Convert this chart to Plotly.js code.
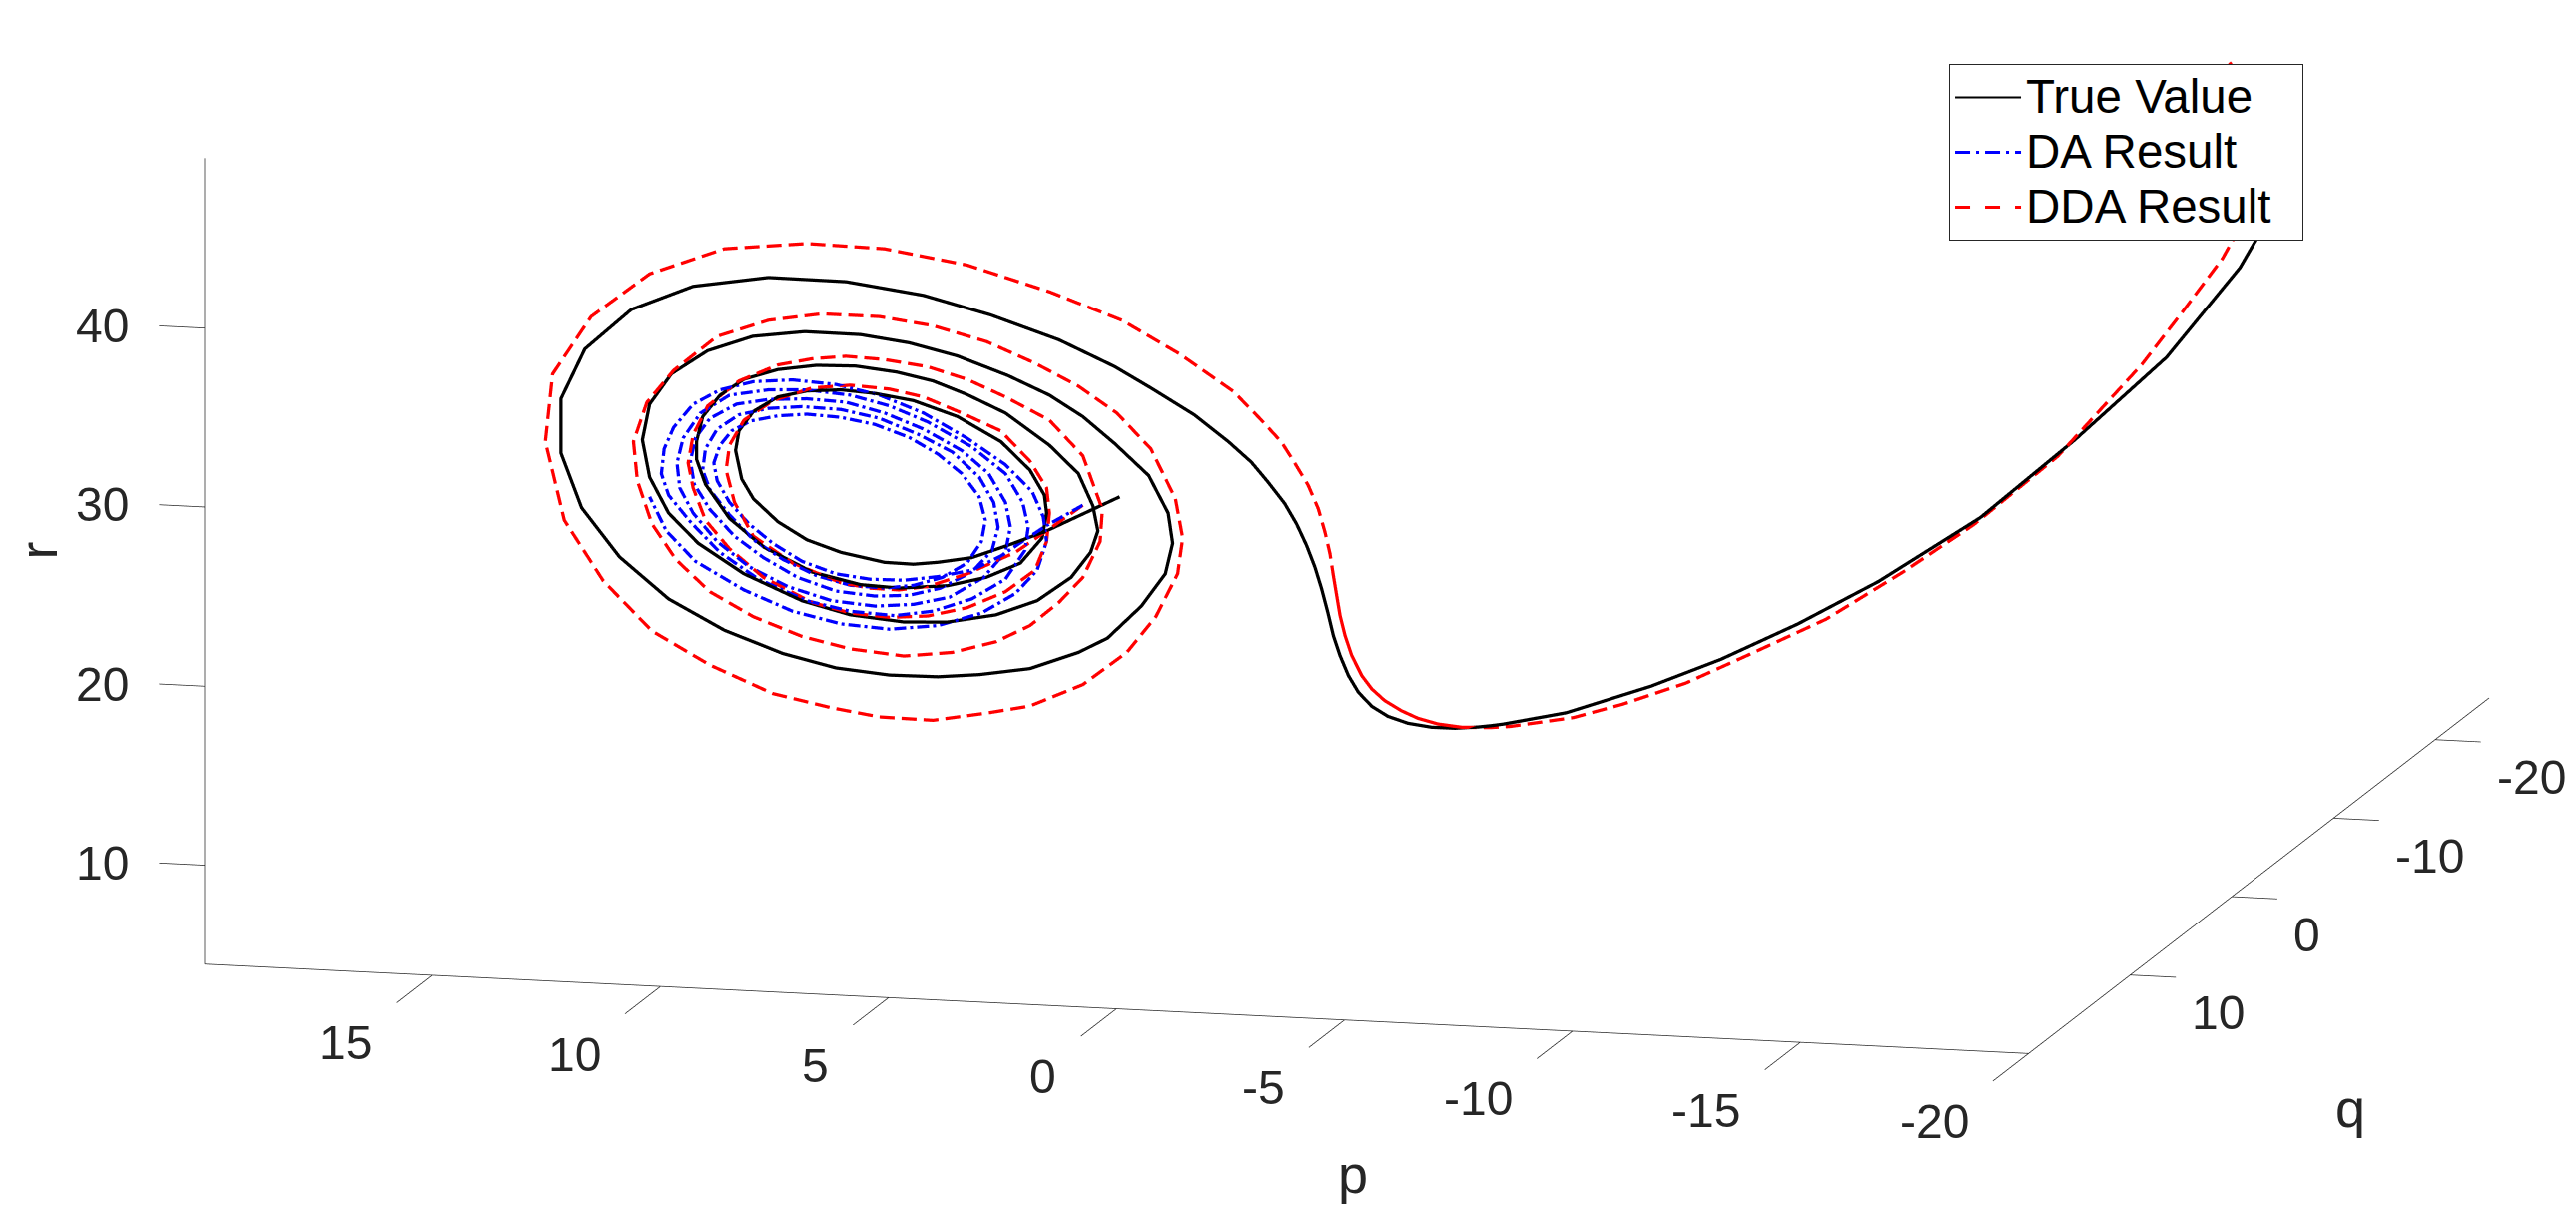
<!DOCTYPE html>
<html><head><meta charset="utf-8"><script src="https://cdn.plot.ly/plotly-3.0.1.min.js"></script>
<style>html,body{margin:0;padding:0;background:#fff}#c{width:2580px;height:1232px}</style></head><body><div id="c"></div>
<script>
const pTicks=[-20,-15,-10,-5,0,5,10,15];
const qTicks=[-20,-10,0,10];
const rTicks=[10,20,30,40];
// q cannot be separated from p along the line of sight, so the curves are read with q equal to p.
const trueP=[3.59,4.90,5.55,6.24,6.85,7.29,7.81,8.59,9.20,9.72,10.16,10.37,10.48,10.42,10.16,9.72,9.20,8.59,7.98,7.29,6.50,5.72,5.20,4.94,4.90,4.98,5.37,5.98,6.68,7.55,8.24,9.11,9.98,10.59,11.02,11.18,11.18,11.07,10.76,10.33,9.72,9.03,8.33,7.59,6.94,6.33,5.64,4.85,4.33,4.07,3.98,4.11,4.46,5.07,5.81,6.68,7.46,8.42,9.29,10.33,11.15,11.68,12.02,12.15,12.02,11.63,10.98,10.17,9.24,8.24,7.37,6.50,5.59,4.85,4.25,3.68,3.07,2.72,2.64,2.77,3.20,3.81,4.33,5.20,6.11,6.85,7.72,8.68,9.63,10.68,11.68,12.56,13.24,13.61,13.61,13.18,12.35,11.24,9.89,8.50,7.11,5.90,4.68,3.68,3.03,2.25,1.64,1.23,0.93,0.63,0.42,0.24,0.09,-0.03,-0.14,-0.24,-0.36,-0.51,-0.69,-0.93,-1.22,-1.58,-2.00,-2.42,-2.84,-3.08,-3.29,-4.42,-5.93,-7.19,-8.57,-10.02,-11.84,-13.54,-15.18,-16.50,-16.82,-17.13,-17.19,-16.94];
const trueR=[25.42,23.93,23.38,22.86,22.79,22.82,23.09,23.89,24.78,25.95,27.37,28.54,30.17,31.25,32.26,32.93,33.10,32.97,32.58,31.96,30.82,29.17,27.42,25.94,24.93,23.56,22.28,21.68,21.43,21.57,21.98,22.96,24.63,26.41,28.45,29.90,30.89,32.25,33.35,34.11,34.46,34.48,34.22,33.65,32.95,32.00,30.75,28.70,26.95,25.07,23.64,22.49,21.20,20.09,19.53,19.40,19.65,20.35,21.41,23.24,25.20,27.05,29.16,31.29,33.25,34.82,35.91,36.46,36.43,35.95,35.22,34.21,32.82,31.50,30.11,28.43,26.45,24.24,22.53,20.87,19.20,17.60,16.97,16.34,16.29,16.40,16.77,17.47,18.57,20.20,22.26,24.88,27.84,31.01,34.05,36.70,38.64,39.59,39.66,38.99,37.79,36.31,34.54,32.73,31.33,29.58,27.89,26.62,25.41,24.11,22.92,21.66,20.40,19.15,17.81,16.48,15.32,14.16,13.17,12.31,11.66,11.16,10.81,10.62,10.56,10.56,10.58,10.86,11.86,12.97,14.51,16.43,19.42,23.24,27.33,31.93,33.55,36.61,39.49,41.94];
const daP=[4.25,4.90,5.29,5.72,6.24,6.85,7.46,8.07,8.68,9.29,9.81,10.24,10.59,10.81,10.87,10.76,10.55,10.20,9.72,9.20,8.59,7.98,7.37,6.85,6.42,6.11,6.00,6.07,6.33,6.77,7.29,7.81,8.42,9.03,9.63,10.16,10.59,10.94,11.07,11.02,10.81,10.42,9.89,9.29,8.59,7.90,7.20,6.59,6.11,5.85,5.77,5.88,6.24,6.81,7.37,7.98,8.68,9.37,9.98,10.50,10.94,11.22,11.29,11.20,10.94,10.46,9.89,9.20,8.50,7.81,7.11,6.42,5.94,5.64,5.55,5.64,6.03,6.64,7.29,7.98,8.76,9.55,10.24,10.81,11.24,11.48,11.53,11.42,11.11,10.59,9.89,9.20,8.42,7.72,7.03,6.24,5.64,5.33,5.23,5.29,5.64,6.24,6.94,7.63,8.42,9.20,10.07,10.76,11.29,11.68,11.81,11.76,11.59,11.24,10.76,10.16,9.46,8.68,7.90,7.11,6.33,5.64,5.16,4.96,4.90,5.07,5.46,6.07,6.85,7.72,8.59,9.46,10.33,11.20,11.72,12.02];
const daR=[25.16,24.23,23.56,22.79,22.16,21.99,21.98,22.23,22.72,23.61,24.77,26.00,27.31,28.58,29.60,30.55,31.29,31.74,31.87,31.80,31.43,30.84,29.93,28.83,27.60,26.21,24.87,23.70,22.58,21.92,21.64,21.65,22.00,22.73,23.82,25.08,26.61,28.12,29.26,30.44,31.47,32.15,32.34,32.25,31.87,31.16,30.04,28.86,27.31,25.82,24.41,23.14,22.06,21.33,21.11,21.26,21.76,22.74,24.03,25.39,27.02,28.51,29.83,31.09,32.11,32.76,32.84,32.66,32.25,31.43,30.31,28.89,27.45,25.76,24.34,22.97,21.69,20.78,20.58,20.70,21.25,22.29,23.61,25.19,26.91,28.39,29.80,31.16,32.46,33.30,33.38,33.16,32.62,31.80,30.68,29.04,27.36,25.66,24.24,22.96,21.47,20.56,20.09,20.06,20.55,21.38,22.86,24.57,26.44,28.05,29.29,30.67,31.81,33.00,33.65,33.92,33.80,33.30,32.46,31.21,29.56,27.86,26.21,24.74,23.34,21.79,20.61,19.71,19.26,19.33,19.90,20.88,22.34,24.21,26.06,28.06];
const ddaP=[4.25,4.90,5.46,6.33,7.03,7.55,8.07,8.59,9.46,10.16,10.50,10.65,10.59,10.33,9.81,9.11,8.42,7.72,7.11,6.42,5.72,5.20,4.90,4.85,4.90,5.11,5.64,6.33,7.03,7.72,8.42,9.11,9.98,10.59,11.02,11.24,11.33,11.24,10.98,10.42,9.72,9.11,8.50,7.81,7.03,6.33,5.64,4.85,4.25,3.90,3.94,4.25,4.68,5.20,5.81,6.59,7.46,8.42,9.29,10.16,10.94,11.55,11.98,12.24,12.31,12.07,11.59,10.81,9.89,8.94,7.90,6.94,5.98,5.11,4.33,3.64,3.03,2.59,2.46,2.55,2.94,3.46,4.25,5.20,5.98,6.94,7.90,8.76,9.81,10.94,11.98,12.85,13.55,13.89,13.76,13.07,12.02,10.68,9.20,7.81,6.33,4.85,3.55,2.51,1.55,1.05,0.69,0.48,0.21,0.03,-0.09,-0.18,-0.24,-0.30,-0.36,-0.45,-0.57,-0.75,-0.93,-1.16,-1.46,-1.76,-2.12,-2.54,-3.05,-3.41,-4.55,-5.43,-6.56,-7.69,-9.08,-10.46,-11.72,-13.23,-14.74,-15.49,-16.19,-16.40,-16.69,-16.75,-16.56,-16.31];
const ddaR=[25.16,23.93,22.91,21.98,21.50,21.47,21.73,22.19,23.57,25.28,27.28,29.13,30.50,31.82,32.75,33.24,33.18,32.74,32.11,30.99,29.77,27.92,26.33,24.91,23.34,21.80,20.77,20.09,19.85,19.99,20.45,21.26,22.93,24.72,26.45,28.31,29.74,31.30,32.82,34.04,34.72,34.87,34.82,34.42,33.77,32.85,31.65,30.10,27.92,24.81,23.04,21.13,19.87,18.74,18.03,17.68,17.75,18.45,19.42,20.79,22.43,24.42,26.55,29.03,31.24,33.36,35.00,36.66,37.27,37.33,36.85,36.04,34.85,33.37,31.84,30.12,27.93,25.00,22.77,20.80,18.53,16.70,15.15,14.25,14.10,14.00,14.49,15.27,16.39,18.34,20.57,23.63,27.24,31.74,35.48,38.47,40.53,41.51,41.34,40.61,39.24,37.28,35.28,33.06,30.67,28.91,27.57,26.48,25.00,23.64,22.30,21.06,19.83,18.69,17.56,16.41,15.26,14.08,13.28,12.56,11.90,11.38,10.95,10.64,10.46,10.41,10.55,11.02,11.84,13.07,14.62,16.82,19.06,22.41,27.08,29.87,32.56,33.68,36.75,39.89,42.33,43.46];
const pLim=[-20,20],qLim=[-25.3,20],rLim=[4.47,49.5];
const axisInk='#262626',fontName='Liberation Sans';
// Cut a polyline into dashes measured in on-screen pixels; gl dash patterns stretch with the scene scale.
const pxP=[45.6,2.24],pxQ=[10.17,7.85],pxR=17.9;
function dashed(P,R,pattern,solidFrom,solidTo){
  const o={x:[],y:[],z:[]};let k=0,left=pattern[0],on=true;
  const put=(a,b)=>{o.x.push(a);o.y.push(a);o.z.push(b);};
  put(P[0],R[0]);
  for(let i=1;i<P.length;i++){
    const dp=P[i]-P[i-1],dr=R[i]-R[i-1];
    const dx=-pxP[0]*dp-pxQ[0]*dp,dy=-pxP[1]*dp+pxQ[1]*dp-pxR*dr;
    const len=Math.hypot(dx,dy);
    if(i>solidFrom&&i<=solidTo){if(!on){put(P[i-1],R[i-1]);on=true;}put(P[i],R[i]);k=0;left=pattern[0];continue;}
    let t=0;
    while(t+left<len){
      t+=left;const f=t/len,a=P[i-1]+dp*f,b=R[i-1]+dr*f;
      if(on){put(a,b);o.x.push(null);o.y.push(null);o.z.push(null);}else{put(a,b);}
      on=!on;k=(k+1)%pattern.length;left=pattern[k];
    }
    left-=len-t;
    if(on)put(P[i],R[i]);
  }
  return o;
}
const seg=(list,fn)=>{const o={x:[],y:[],z:[]};list.forEach(v=>{const [a,b]=fn(v);o.x.push(a[0],b[0],null);o.y.push(a[1],b[1],null);o.z.push(a[2],b[2],null);});return o;};
const frame=(o,name)=>Object.assign({type:'scatter3d',mode:'lines',line:{color:axisInk,width:1.5},showlegend:false,hoverinfo:'skip',name},o);
const curve=(o,color,name)=>Object.assign({type:'scatter3d',mode:'lines',line:{color,width:6.5},showlegend:false,name},o);
const key=(text,color,width,dash,pad)=>({type:'scatter3d',mode:'lines',x:[null],y:[null],z:[null],line:{color,width,dash},name:'<span style="font-size:47.5px">'+text+(pad||'')+'</span>',hoverinfo:'skip'});
const traces=[
curve({x:trueP,y:trueP,z:trueR},'#000000','True Value'),
curve(dashed(daP,daR,[12,4,3,4],-1,-1),'#0000ff','DA Result'),
curve(dashed(ddaP,ddaR,[15,7],ddaP.indexOf(-0.24),ddaP.indexOf(-2.54)),'#ff0000','DDA Result'),
key('True Value','#000000',2,'solid'),
key('DA Result','#0000ff',3,'longdashdot'),
key('DDA Result','#ff0000',3,'longdash','&nbsp;&nbsp;'),
frame({x:[20,20,-20],y:[20,20,20],z:[rLim[1],rLim[0],rLim[0]]},'axis p r'),
frame({x:[-20,-20],y:[20,qLim[0]],z:[rLim[0],rLim[0]]},'axis q'),
frame(seg(pTicks,v=>[[v,20,rLim[0]],[v,23.5,rLim[0]]]),'ticks p'),
frame(seg(qTicks,v=>[[-20,v,rLim[0]],[-21,v,rLim[0]]]),'ticks q'),
frame(seg(rTicks,v=>[[20,20,v],[21,20,v]]),'ticks r')
];
const tf={size:48,family:fontName,color:axisInk},lf={size:54,family:fontName,color:axisInk};
const note=(x,y,z,text,xanchor,xshift,yshift,extra)=>Object.assign({x,y,z,text,showarrow:false,xanchor,yanchor:'middle',xshift,yshift,font:tf},extra||{});
const annotations=[
...pTicks.map(v=>note(v,20,rLim[0],String(v),'right',-58,-68)),
...qTicks.map(v=>note(-20,v,rLim[0],String(v),'left',60,-38)),
...rTicks.map(v=>note(20,20,v,String(v),'right',-74,2)),
note(-5,20,rLim[0],'p','center',8,-154,{font:lf}),
note(-20,0,rLim[0],'q','center',119,-212,{font:lf}),
note(20,20,25,'r','center',-167,46,{textangle:-90,font:lf})
];
const hid=(rng)=>({range:rng,visible:false});
const S=3.058;
const e=[-0.2398,0.9512,0.1947],D=8,c=[0.0145*S+0.00626,0.0221*S+0.00157,-0.0903*S];
Plotly.newPlot('c',traces,{
width:2580,height:1232,margin:{l:0,r:0,t:0,b:0},paper_bgcolor:'#fff',showlegend:true,
legend:{x:0.7566,y:0.948,xanchor:'left',yanchor:'top',bordercolor:axisInk,borderwidth:1,bgcolor:'#fff',itemwidth:66,font:{size:40,family:fontName,color:'#000'}},
scene:{domain:{x:[0,1],y:[0,1]},aspectmode:'manual',aspectratio:{x:1.06*S,y:1.086*S,z:0.4386*S},
xaxis:hid([-21.2,21.2]),yaxis:hid([-25.4,23.7]),zaxis:hid([4.4,49.6]),annotations,
camera:{projection:{type:'orthographic'},up:{x:0,y:0,z:1},center:{x:c[0],y:c[1],z:c[2]},eye:{x:c[0]+e[0]*D,y:c[1]+e[1]*D,z:c[2]+e[2]*D}}}
},{displayModeBar:false});
</script></body></html>
